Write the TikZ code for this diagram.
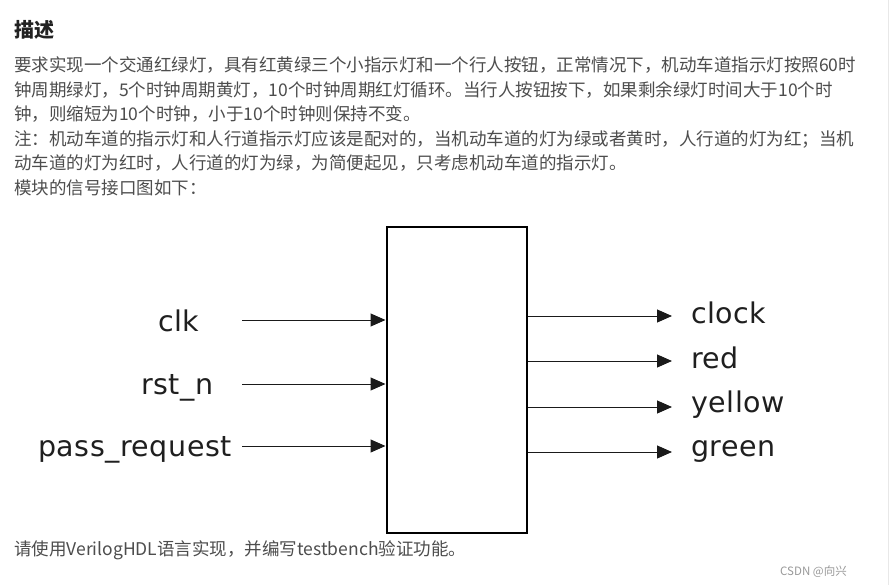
\documentclass[tikz,border=0pt]{standalone}
\usepackage{fontspec}
\usetikzlibrary{arrows.meta}
\newfontfamily\cjk{Noto Sans CJK SC}
\newfontfamily\lab[LetterSpace=1.8]{DejaVu Sans}
\definecolor{bodytext}{HTML}{4D4D4D}
\definecolor{titletext}{HTML}{222222}
\definecolor{labtext}{HTML}{1F1F1F}
\definecolor{arrowcol}{HTML}{1A1A1A}
\definecolor{marktext}{HTML}{999999}
\definecolor{edgeline}{HTML}{E8E8E8}
\tikzset{
  bodyline/.style={anchor=base west, inner sep=0pt, text=bodytext, font=\cjk\fontsize{17.5}{20}\selectfont},
  titleline/.style={anchor=base west, inner sep=0pt, text=titletext, font=\cjk\bfseries\fontsize{20}{22}\selectfont},
  siglabel/.style={anchor=base west, inner sep=0pt, text=labtext, font=\lab\fontsize{28.5}{32}\selectfont},
  modbox/.style={draw=black, line width=2pt, minimum width=140pt, minimum height=305pt, inner sep=0pt},
  sigarrow/.style={draw=arrowcol, line width=1pt, -{Triangle[length=15pt,width=13pt]}},
  markline/.style={anchor=base west, inner sep=0pt, text=marktext, font=\cjk\fontsize{11.5}{13}\selectfont}
}
\begin{document}
\begin{tikzpicture}[x=1pt,y=-1pt]
\useasboundingbox[fill=white] (0,0) rectangle (891,585);
\draw[edgeline, line width=1pt] (888.5,0) -- (888.5,585);
% text
\node[titleline] (title) at (14,38) {描述};
\node[bodyline] (l1) at (14,72) {要求实现一个交通红绿灯，具有红黄绿三个小指示灯和一个行人按钮，正常情况下，机动车道指示灯按照60时};
\node[bodyline] (l2) at (14,96.5) {钟周期绿灯，5个时钟周期黄灯，10个时钟周期红灯循环。当行人按钮按下，如果剩余绿灯时间大于10个时};
\node[bodyline] (l3) at (14,121) {钟，则缩短为10个时钟，小于10个时钟则保持不变。};
\node[bodyline] (l4) at (14,145.5) {注：机动车道的指示灯和人行道指示灯应该是配对的，当机动车道的灯为绿或者黄时，人行道的灯为红；当机};
\node[bodyline] (l5) at (14,170) {动车道的灯为红时，人行道的灯为绿，为简便起见，只考虑机动车道的指示灯。};
\node[bodyline] (l6) at (14,194.5) {模块的信号接口图如下：};
\node[bodyline] (l7) at (14,555) {请使用VerilogHDL语言实现，并编写testbench验证功能。};
\node[markline] (mark) at (780,575) {CSDN @向兴};
% module box
\node[modbox] (box) at (456.5,380) {};
% inputs
\node[siglabel] (clk) at (158,331.5) {clk};
\node[siglabel] (rst) at (141,394) {rst\_n};
\node[siglabel] (pass) at (38,456.5) {pass\_request};
\coordinate (i1) at (242,320);
\coordinate (i2) at (242,384);
\coordinate (i3) at (242,446);
\draw[sigarrow] (i1) -- (i1 -| box.west);
\draw[sigarrow] (i2) -- (i2 -| box.west);
\draw[sigarrow] (i3) -- (i3 -| box.west);
% outputs
\node[siglabel] (clock) at (691,323.5) {clock};
\node[siglabel] (red) at (691,368) {red};
\node[siglabel] (yellow) at (691,412) {yellow};
\node[siglabel] (green) at (691,456) {green};
\coordinate (o1) at (672,316);
\coordinate (o2) at (672,361);
\coordinate (o3) at (672,407);
\coordinate (o4) at (672,452);
\draw[sigarrow] (o1 -| box.east) -- (o1);
\draw[sigarrow] (o2 -| box.east) -- (o2);
\draw[sigarrow] (o3 -| box.east) -- (o3);
\draw[sigarrow] (o4 -| box.east) -- (o4);
\end{tikzpicture}
\end{document}
